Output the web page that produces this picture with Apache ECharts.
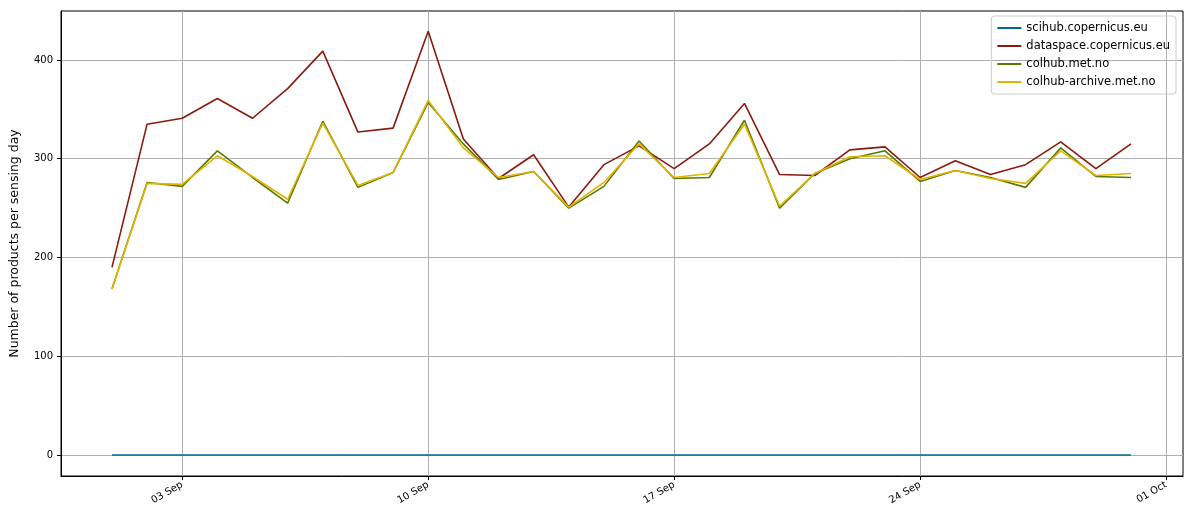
<!DOCTYPE html>
<html>
<head>
<meta charset="utf-8">
<script src="https://cdn.jsdelivr.net/npm/echarts@6/dist/echarts.min.js"></script>
<style>html,body{margin:0;padding:0;background:#fff}#chart{width:1192px;height:524px}</style>
</head>
<body>
<div id="chart"></div>
<script>
// day of September (1..30)
var days = [];
for (var d = 1; d <= 30; d++) days.push(d);
var scihub = [0,0,0,0,0,0,0,0,0,0,0,0,0,0,0,0,0,0,0,0,0,0,0,0,0,0,0,0,0,0];
var dataspace = [190,335,341,361,341,371,409,327,331,429,320,280,304,251,294,313,290,315,356,284,283,309,312,281,298,284,294,317,290,315];
var colhub = [168,276,272,308,281,255,338,271,286,357,315,279,287,250,272,318,280,281,339,250,285,300,308,277,288,281,271,311,282,281];
var archive = [168,275,274,303,282,259,336,273,286,359,311,281,287,251,276,315,281,285,335,252,285,302,303,279,288,280,275,308,283,285];
var tickDays = [3,10,17,24,31];
var tickLabels = {3:'03 Sep',10:'10 Sep',17:'17 Sep',24:'24 Sep',31:'01 Oct'};

function pairs(arr){
	var out = [];
	for (var i = 0; i < days.length; i++) out.push([days[i], arr[i]]);
	return out;
}
function line(name, arr, color){
	return {name:name, type:'line', data:pairs(arr), showSymbol:false, symbol:'none',
		lineStyle:{color:color, width:1.6}, itemStyle:{color:color}};
}

var chart = echarts.init(document.getElementById('chart'));
chart.setOption({
	animation:false,
	grid:{left:61, right:9, top:11, bottom:48, containLabel:false, show:true, borderColor:'#000', borderWidth:1},
	legend:{
		orient:'vertical', right:16, top:16, itemWidth:24, itemHeight:2, itemGap:6,
		icon:'rect', borderColor:'#ccc', borderWidth:1, borderRadius:3, padding:[6,6,6,6],
		textStyle:{fontSize:11.5, color:'#000', fontFamily:'DejaVu Sans'},
		data:['scihub.copernicus.eu','dataspace.copernicus.eu','colhub.met.no','colhub-archive.met.no']
	},
	xAxis:{
		type:'value', min:-0.45, max:31.48,
		axisLine:{onZero:false, lineStyle:{color:'#000'}},
		axisTick:{show:true, customValues:tickDays, length:4, lineStyle:{color:'#000'}},
		axisLabel:{customValues:tickDays, rotate:30, fontSize:10, color:'#000', fontFamily:'DejaVu Sans',
			formatter:function(v){ return tickLabels[Math.round(v)] || ''; }},
		splitLine:{show:true, lineStyle:{color:'#b0b0b0'}}
	},
	yAxis:{
		type:'value', min:-21.3, max:449.6,
		name:'Number of products per sensing day', nameLocation:'middle', nameGap:40,
		nameTextStyle:{fontSize:12.5, color:'#000', fontFamily:'DejaVu Sans'},
		axisLine:{show:true, onZero:false, lineStyle:{color:'#000'}},
		axisTick:{show:true, customValues:[0,100,200,300,400], length:4, lineStyle:{color:'#000'}},
		axisLabel:{customValues:[0,100,200,300,400], fontSize:10, color:'#000', fontFamily:'DejaVu Sans'},
		splitLine:{show:true, lineStyle:{color:'#b0b0b0'}}
	},
	series:[
		line('scihub.copernicus.eu', scihub, '#00698f'),
		line('dataspace.copernicus.eu', dataspace, '#8b1a0e'),
		line('colhub.met.no', colhub, '#587a00'),
		line('colhub-archive.met.no', archive, '#e2b400')
	]
});
</script>
</body>
</html>
